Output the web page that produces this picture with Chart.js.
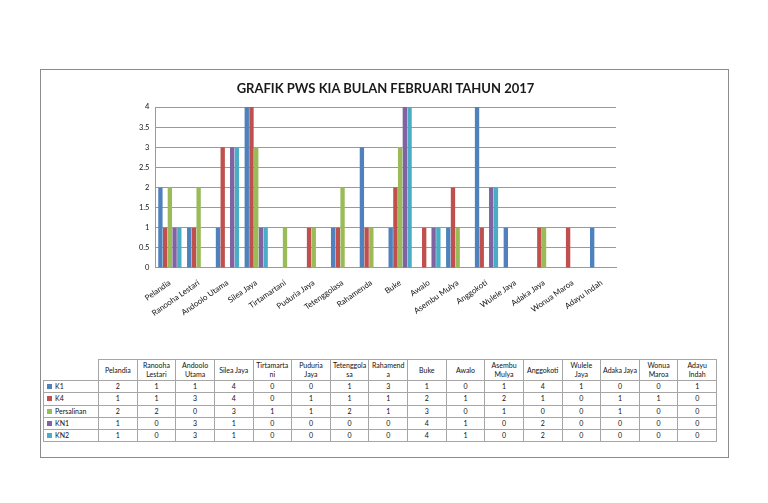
<!DOCTYPE html>
<html>
<head>
<meta charset="utf-8">
<script src="https://cdn.jsdelivr.net/npm/chart.js@4"></script>
<style>
  html, body { margin: 0; padding: 0; background: #fff; }
  body { width: 768px; height: 503px; position: relative; overflow: hidden; font-family: Lato, 'Liberation Sans', sans-serif; }
  #box { position: absolute; left: 40px; top: 69px; width: 689px; height: 389px; border: 1px solid #8c8c8c; box-sizing: border-box; }
  #title { position: absolute; left: 0; top: 10px; width: 689px; text-align: center; font: bold 13px Lato, sans-serif; color: #1a1a1a; }
  #chartWrap { position: absolute; left: 0; top: 0; width: 687px; height: 286px; }
  #dataTable { position: absolute; left: 2px; top: 289px; border-collapse: collapse; table-layout: fixed; width: 674px; font-size: 7px; color: #111; }
  #dataTable td, #dataTable th { border: 1px solid #a6a6a6; text-align: center; padding: 0 1px; font-weight: normal; overflow-wrap: anywhere; line-height: 9px; color: #111; }
  #dataTable thead th { height: 20px; }
  #dataTable tbody td { height: 11.3px; }
  #dataTable th.corner { border: none; }
  #dataTable td.lbl { text-align: left; padding-left: 3px; white-space: nowrap; }
  .key { display: inline-block; width: 5px; height: 5px; margin-right: 3px; vertical-align: 0; }
</style>
</head>
<body>
<div id="box">
  <div id="chartWrap"><canvas id="chart"></canvas></div>
  <div id="title">GRAFIK PWS KIA BULAN FEBRUARI TAHUN 2017</div>
  <table id="dataTable"></table>
</div>
<script>
// Data PWS KIA Februari 2017
const categories = ['Pelandia', 'Ranooha Lestari', 'Andoolo Utama', 'Silea Jaya', 'Tirtamartani', 'Puduria Jaya',
  'Tetenggolasa', 'Rahamenda', 'Buke', 'Awalo', 'Asembu Mulya', 'Anggokoti', 'Wulele Jaya', 'Adaka Jaya',
  'Wonua Maroa', 'Adayu Indah'];
// header labels as they appear in the table
const tableHeaders = ['Pelandia', 'Ranooha Lestari', 'Andoolo Utama', 'Silea Jaya', 'Tirtamarta ni', 'Puduria Jaya',
  'Tetenggola sa', 'Rahamend a', 'Buke', 'Awalo', 'Asembu Mulya', 'Anggokoti', 'Wulele Jaya', 'Adaka Jaya',
  'Wonua Maroa', 'Adayu Indah'];

const k1         = [2, 1, 1, 4, 0, 0, 1, 3, 1, 0, 1, 4, 1, 0, 0, 1];
const k4         = [1, 1, 3, 4, 0, 1, 1, 1, 2, 1, 2, 1, 0, 1, 1, 0];
const persalinan = [2, 2, 0, 3, 1, 1, 2, 1, 3, 0, 1, 0, 0, 1, 0, 0];
const kn1        = [1, 0, 3, 1, 0, 0, 0, 0, 4, 1, 0, 2, 0, 0, 0, 0];
const kn2        = [1, 0, 3, 1, 0, 0, 0, 0, 4, 1, 0, 2, 0, 0, 0, 0];

const seriesNames = ['K1', 'K4', 'Persalinan', 'KN1', 'KN2'];
const seriesData = [k1, k4, persalinan, kn1, kn2];
const seriesColors = ['#4f81bd', '#c0504d', '#9bbb59', '#8064a2', '#4bacc6'];

const yMax = 4;
const yStep = 0.5;

function buildChart() {
  const ctx = document.getElementById('chart').getContext('2d');
  const datasets = seriesNames.map((name, i) => ({
    label: name,
    data: seriesData[i],
    backgroundColor: seriesColors[i],
    borderColor: seriesColors[i],
    borderWidth: 0,
    categoryPercentage: 0.82,
    barPercentage: 0.92,
  }));

  new Chart(ctx, {
    type: 'bar',
    data: { labels: categories, datasets },
    options: {
      responsive: true,
      maintainAspectRatio: false,
      animation: false,
      layout: { padding: { left: 92, right: 112, top: 37, bottom: 36 } },
      plugins: {
        legend: { display: false },
        tooltip: { enabled: false },
        title: { display: false },
      },
      scales: {
        x: {
          grid: { display: false },
          border: { color: '#9a9a9a' },
          ticks: {
            color: '#111',
            font: { family: 'Lato', size: 8 },
            maxRotation: 35,
            minRotation: 35,
            autoSkip: false,
            padding: 2,
          },
        },
        y: {
          min: 0,
          max: yMax,
          grid: { color: '#9a9a9a', drawTicks: false },
          border: { color: '#9a9a9a' },
          ticks: {
            stepSize: yStep,
            color: '#111',
            font: { family: 'Lato', size: 7.5 },
            padding: 6,
            callback: (v) => String(v),
          },
        },
      },
    },
  });
}

function buildTable() {
  const table = document.getElementById('dataTable');
  let html = '<colgroup><col style="width:55px">';
  categories.forEach(() => { html += '<col>'; });
  html += '</colgroup><thead><tr><th class="corner"></th>';
  tableHeaders.forEach((h) => { html += `<th>${h}</th>`; });
  html += '</tr></thead><tbody>';
  seriesNames.forEach((name, i) => {
    html += `<tr><td class="lbl"><span class="key" style="background:${seriesColors[i]}"></span>${name}</td>`;
    seriesData[i].forEach((v) => { html += `<td>${v}</td>`; });
    html += '</tr>';
  });
  html += '</tbody>';
  table.innerHTML = html;
}

buildTable();
buildChart();
</script>
</body>
</html>
